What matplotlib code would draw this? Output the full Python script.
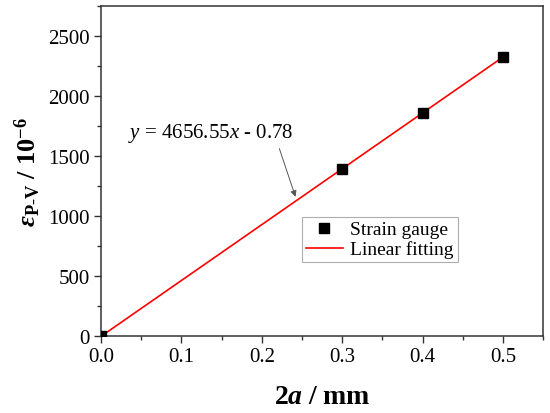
import numpy as np
import matplotlib
matplotlib.use('Agg')
import matplotlib.pyplot as plt
from matplotlib.ticker import MultipleLocator

plt.rcParams['font.family'] = 'Liberation Serif'
plt.rcParams['mathtext.fontset'] = 'custom'
plt.rcParams['mathtext.rm'] = 'Liberation Serif'
plt.rcParams['mathtext.it'] = 'Liberation Serif:italic'
plt.rcParams['mathtext.bf'] = 'Liberation Serif:bold'
plt.rcParams['mathtext.bfit'] = 'Liberation Serif:italic:bold'

# measured data (strain gauge)
crack = [0.0, 0.3, 0.4, 0.5]
strain = [0, 1392, 1863, 2326]

# linear fit y = k*x + b
slope = 4656.55
intercept = -0.78
fit_x = np.array([0.0, 0.5])
fit_y = slope * fit_x + intercept

fig = plt.figure(figsize=(5.5, 4.14), dpi=100)
ax = fig.add_axes([0.1836, 0.1853, 0.8042, 0.7971])

ax.plot(crack, strain, 's', color='black', markersize=7, label='Strain gauge', zorder=3)
ax.plot(fit_x, fit_y, '-', color='red', lw=1.2, label='Linear fitting', zorder=2)

ax.set_xlim(0, 0.55)
ax.set_ylim(0, 2750)
ax.xaxis.set_major_locator(MultipleLocator(0.1))
ax.xaxis.set_minor_locator(MultipleLocator(0.05))
ax.yaxis.set_major_locator(MultipleLocator(500))
ax.yaxis.set_minor_locator(MultipleLocator(250))
ax.xaxis.set_major_formatter(plt.FormatStrFormatter('%.1f'))

ax.tick_params(which='both', direction='out', top=False, right=False, width=1, color='#333333')
ax.tick_params(which='major', length=5, labelsize=15, pad=3)
ax.tick_params(which='minor', length=3)
for s in ax.spines.values():
    s.set_linewidth(1.1)
    s.set_color('#333333')

ax.set_xlabel(r'$\mathbf{2}\mathbfit{a}\mathbf{\ /\ mm}$', fontsize=20, labelpad=13)
ax.set_ylabel(r'$\mathbfit{\varepsilon}_{\mathbf{P\text{-}V}}\mathbf{\ /\ 10^{-6}}$', fontsize=19, labelpad=4)

ax.text(0.034, 1702, r'$\mathit{y}$ = 4656.55$\mathit{x}$ - 0.78', fontsize=15, va='center', ha='left')
ax.annotate('', xy=(0.243, 1140), xytext=(0.2207, 1586),
            arrowprops=dict(arrowstyle='-|>', color='#555555', lw=0.7, mutation_scale=9))

leg = ax.legend(loc='upper left', bbox_to_anchor=(0.4538, 0.3615), fontsize=14,
                frameon=True, fancybox=False, handlelength=1.9, handletextpad=0.4,
                borderpad=0.2, labelspacing=0.1, borderaxespad=0)
leg.get_frame().set_edgecolor('#999999')
leg.get_frame().set_linewidth(0.8)

fig.savefig('out.png', dpi=100)
